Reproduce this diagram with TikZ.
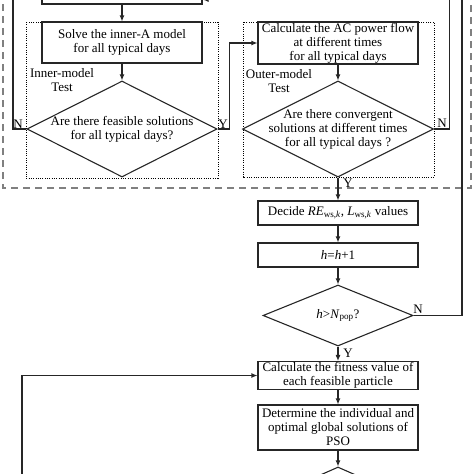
\documentclass[tikz,border=0pt]{standalone}
\usepackage{fontspec}
\setmainfont{Liberation Serif}
\usetikzlibrary{arrows.meta, positioning, shapes.geometric}

\begin{document}
\begin{tikzpicture}[
    x=1pt, y=-1pt,
    font=\fontsize{13}{14}\selectfont,
    box/.style={draw=black!85, line width=1.1pt, minimum width=160pt,
                align=center, inner sep=1pt},
    dia/.style={draw=black!85, diamond, line width=1.1pt, inner sep=0pt},
    dbox/.style={draw, line width=0.9pt, dash pattern=on 1pt off 1.3pt},
    arr/.style={-{Latex[length=6pt, width=5pt]}, line width=1.1pt, black!85},
    lne/.style={line width=1.1pt, black!85},
    tag/.style={inner sep=0pt},
]
\useasboundingbox (0,0) rectangle (474,474);
\clip (0,0) rectangle (474,474);

% dashed frame and test regions
\draw[gray, line width=2pt, dash pattern=on 7pt off 5pt] (3,-20) rectangle (471,188);
\draw[dbox] (26,22) rectangle (218,178);
\draw[dbox] (243,22) rectangle (434,177);

\node[box, minimum height=40pt] (top) at (122,-16) {};
\node[box, minimum height=41pt] (solve) at (122,42.5)
    {Solve the inner-A model\\for all typical days};
\node[dia, minimum width=190pt, minimum height=96pt,
      label={[align=center]center:Are there feasible solutions\\for all typical days?}]
    (feas) at (122,129) {};
\node[align=center, tag] (innerlbl) at (62,80) {Inner-model\\Test};

\node[box, minimum height=42pt] (acpf) at (338,43)
    {Calculate the AC power flow\\at different times\\for all typical days};
\node[dia, minimum width=191pt, minimum height=96pt,
      label={[align=center]center:Are there convergent\\solutions at different times\\for all typical days ?}]
    (conv) at (338,129) {};
\node[align=center, tag] (outerlbl) at (279,81) {Outer-model\\Test};

\node[box, minimum height=24pt] (decide) at (338,213)
    {Decide \textit{RE}\textsubscript{ws,\textit{k}}, \textit{L}\textsubscript{ws,\textit{k}} values};
\node[box, minimum height=24pt] (hinc) at (338,255) {\textit{h}=\textit{h}+1};
\node[dia, minimum width=150pt, minimum height=61pt,
      label={center:\textit{h}>\textit{N}\textsubscript{pop}?}]
    (hchk) at (338,315.5) {};
\node[box, minimum height=25pt] (fit) at (338,375.5)
    {Calculate the fitness value of\\each feasible particle};
\node[box, minimum height=45pt] (det) at (338,427.5)
    {Determine the individual and\\optimal global solutions of\\PSO};
\node[dia, minimum width=150pt, minimum height=66pt] (nextchk) at (338,500) {};

% branch tags
\node[tag] (n1) at (18,124) {N};
\node[tag] (y1) at (223,124) {Y};
\node[tag] (n2) at (442,123) {N};
\node[tag] (y2) at (348,183) {Y};
\node[tag] (n3) at (418,309) {N};
\node[tag] (y3) at (348,353) {Y};

\coordinate (upL) at (13,-30);
\coordinate (upR) at (462,-30);
\coordinate (loopB) at (22,500);

\draw[arr] (top) -- (solve);
\draw[arr] (solve) -- (feas);
\draw[lne] (feas.west) -| (upL);
\draw[arr] (feas.east) -- ++(12,0) |- (acpf.west);
\draw[arr] (acpf) -- (conv);
\draw[arr] (conv.east) -- ++(15,0) |- ([yshift=5pt]top.south east);
\draw[arr] (conv) -- (decide);
\draw[arr] (decide) -- (hinc);
\draw[arr] (hinc) -- (hchk);
\draw[lne] (hchk.east) -| (upR);
\draw[arr] (hchk) -- (fit);
\draw[arr] (fit) -- (det);
\draw[arr] (det) -- (nextchk);
\draw[arr] (loopB) |- (fit.west);

\end{tikzpicture}
\end{document}
